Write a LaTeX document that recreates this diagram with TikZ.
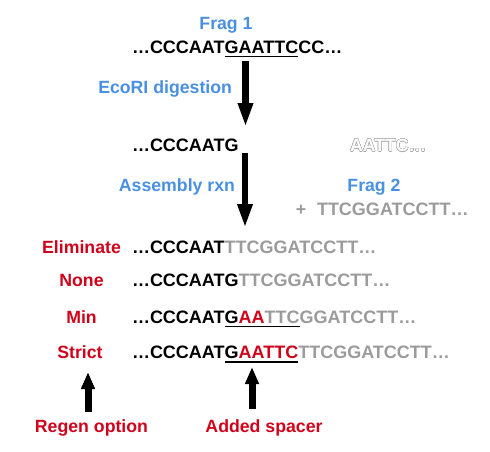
\documentclass[tikz,border=0pt]{standalone}
\usepackage{fontspec}
\setmainfont{Liberation Sans}
\usepackage{contour}
\usetikzlibrary{arrows.meta}
\definecolor{fragblue}{HTML}{4A90E2}
\definecolor{regenred}{HTML}{D0021B}
\definecolor{seqgray}{HTML}{9B9B9B}
\definecolor{outlinegray}{HTML}{A8A8A8}
\contourlength{0.3pt}
\contournumber{32}
\begin{document}
\begin{tikzpicture}[x=1pt,y=-1pt,
  txt/.style={font=\bfseries\fontsize{17.7}{20}\selectfont, inner sep=0pt, outer sep=0pt},
  seq/.style={txt, font=\bfseries\fontsize{18}{20}\selectfont, anchor=base west},
  grayseq/.style={seq, text=seqgray},
  bluelabel/.style={txt, text=fragblue},
  redlabel/.style={txt, text=regenred, anchor=base},
  uline/.style={line width=1.5pt},
  bigarrow/.style={line width=6.5pt, -{Triangle[width=14pt,length=24pt]}},
  smallarrow/.style={line width=7pt, -{Triangle[width=13pt,length=17pt]}}]
\useasboundingbox (0,0) rectangle (490,452);

% Frag 1
\node[bluelabel, anchor=base] (frag1) at (226,30) {Frag 1};
\node[seq] (r1a) at (132,53.3) {…CCCAAT};
\node[seq] (r1b) at (r1a.base east) {GAATTC};
\node[seq] (r1c) at (r1b.base east) {CC…};
\draw[uline] ([yshift=-3pt]r1b.base west) -- ([yshift=-3pt]r1b.base east);

% digestion
\coordinate (a1s) at (245.5,61);
\coordinate (a1e) at (245.5,127);
\draw[bigarrow] (a1s) -- (a1e);
\node[bluelabel, anchor=base east] (eco) at (232,93.3) {EcoRI digestion};

\node[seq] (r2) at (132,151.7) {…CCCAATG};
\node[txt, anchor=base west] (cut) at (350,151.7) {\contour{outlinegray}{\textcolor{white}{AATTC…}}};

% assembly
\coordinate (a2s) at (245,153);
\coordinate (a2e) at (245,228);
\draw[bigarrow] (a2s) -- (a2e);
\node[bluelabel, anchor=base east] (asm) at (235,191.7) {Assembly rxn};
\node[bluelabel, anchor=base] (frag2) at (374,191.7) {Frag 2};
\node[txt, text=seqgray, anchor=base] (plus) at (301,215) {+};
\node[grayseq] (f2seq) at (317,215) {TTCGGATCCTT…};

% Eliminate
\node[redlabel] (elim) at (81.5,253.3) {Eliminate};
\node[seq] (e1) at (132,253.3) {…CCCAAT};
\node[grayseq] (e2) at (e1.base east) {TTCGGATCCTT…};

% None
\node[redlabel] (none) at (81.5,286.7) {None};
\node[seq] (n1) at (132,286.7) {…CCCAATG};
\node[grayseq] (n2) at (n1.base east) {TTCGGATCCTT…};

% Min
\node[redlabel] (min) at (81.5,323.3) {Min};
\node[seq] (m1) at (132,323.3) {…CCCAAT};
\node[seq] (m2) at (m1.base east) {G\textcolor{regenred}{AA}\textcolor{seqgray}{TTC}};
\node[grayseq] (m3) at (m2.base east) {GGATCCTT…};
\draw[uline] ([yshift=-3.3pt]m2.base west) -- ([yshift=-3.3pt]m2.base east);

% Strict
\node[redlabel] (strict) at (80,358.3) {Strict};
\node[seq] (s1) at (132,358.3) {…CCCAAT};
\node[seq] (s2) at (s1.base east) {G\textcolor{regenred}{AATTC}};
\node[grayseq] (s3) at (s2.base east) {TTCGGATCCTT…};
\draw[uline] ([yshift=-3.5pt]s2.base west) -- ([yshift=-3.5pt]s2.base east);

% bottom arrows
\coordinate (b1s) at (88,412);
\coordinate (b1e) at (88,372);
\draw[smallarrow] (b1s) -- (b1e);
\coordinate (b2s) at (252,409);
\coordinate (b2e) at (252,367);
\draw[smallarrow] (b2s) -- (b2e);
\node[redlabel] (regen) at (91.5,432.7) {Regen option};
\node[redlabel] (spacer) at (264,432.7) {Added spacer};
\end{tikzpicture}
\end{document}
